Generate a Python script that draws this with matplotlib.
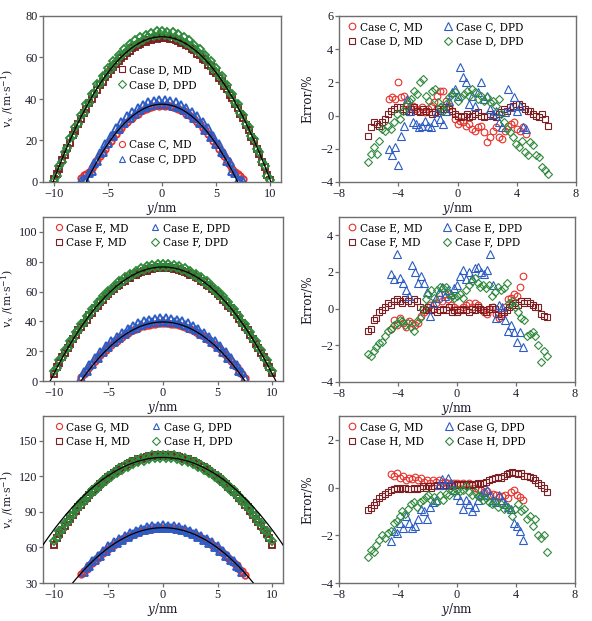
import numpy as np
import matplotlib
matplotlib.use("Agg")
import matplotlib.pyplot as plt

plt.rcParams['font.family'] = ['DejaVu Serif']
plt.rcParams['mathtext.fontset'] = 'dejavuserif'

# ---------------- velocity profiles (left column) ----------------
# wide channel (cases D, F, H) sampled from -10 to 10 nm, narrow (C, E, G) from -7.5 to 7.5 nm
wide_range = (-10.0, 10.0)
narrow_range = (-7.5, 7.5)
narrow_range_G_dpd = (-7.25, 7.25)

vel_D_md = [1.5, 3.8, 6.5, 10.4, 13.0, 16.6, 19.0, 22.5, 24.8, 28.1, 30.2, 33.3, 35.1, 38.0, 39.9, 42.6, 44.3,
            46.8, 48.3, 50.5, 51.9, 54.0, 55.2, 57.1, 58.2, 59.9, 60.8, 62.4, 63.0, 64.4, 65.0, 66.2, 66.5, 67.6,
            67.7, 68.6, 68.6, 69.3, 69.1, 69.7, 69.4, 69.6, 69.2, 69.0, 68.9, 68.2, 68.1, 67.2, 66.9, 65.8, 65.4,
            64.0, 63.5, 61.9, 61.3, 59.4, 58.7, 56.6, 55.7, 53.5, 52.4, 50.0, 48.8, 46.2, 44.8, 42.1, 40.4, 37.5,
            35.7, 32.7, 30.7, 27.5, 25.3, 21.9, 19.6, 16.0, 13.5, 9.8, 7.1, 3.6, 1.2]
vel_D_dpd = [0.6, 2.8, 7.6, 9.4, 14.5, 16.2, 21.1, 22.1, 26.7, 28.0, 32.4, 33.1, 37.4, 38.2, 42.3, 42.9, 47.0,
             47.1, 51.2, 51.0, 54.8, 54.6, 58.2, 57.9, 61.3, 60.7, 64.0, 63.2, 66.3, 65.4, 68.4, 67.1, 69.9, 68.5,
             71.0, 69.8, 72.0, 70.3, 72.6, 70.8, 72.8, 70.9, 72.5, 70.4, 72.1, 69.6, 71.1, 68.6, 69.8, 67.2, 68.3,
             65.2, 66.2, 63.3, 63.9, 60.6, 61.2, 57.8, 58.1, 54.5, 54.7, 50.9, 51.0, 47.0, 46.7, 42.8, 42.2, 38.1,
             37.5, 33.2, 32.2, 27.9, 26.7, 22.2, 20.9, 16.1, 14.5, 9.6, 7.8, 2.9, 0.8]
vel_C_md = [1.8, 3.2, 3.9, 4.9, 6.7, 8.3, 10.6, 12.4, 14.6, 16.1, 18.3, 19.8, 21.9, 23.1, 25.0, 26.2, 27.9, 28.8,
            30.3, 31.0, 32.4, 33.0, 34.1, 34.5, 35.4, 35.6, 36.3, 36.4, 36.9, 36.7, 37.1, 36.8, 36.9, 36.4, 36.3,
            35.6, 35.4, 34.5, 34.1, 33.0, 32.4, 31.1, 30.2, 28.8, 27.9, 26.2, 25.0, 23.2, 21.8, 19.9, 18.2, 16.1,
            14.5, 12.3, 10.4, 8.2, 6.5, 4.6, 3.7, 2.9, 1.6]
vel_C_dpd = [0.4, 1.3, 0.9, 4.3, 5.2, 9.3, 10.1, 14.0, 14.4, 18.4, 18.6, 22.2, 22.1, 25.8, 25.5, 28.9, 28.4, 31.6,
             30.8, 33.9, 32.9, 35.7, 34.6, 37.2, 36.0, 38.4, 36.9, 39.2, 37.5, 39.5, 37.7, 39.6, 37.6, 39.2, 36.8,
             38.4, 36.0, 37.2, 34.5, 35.8, 32.8, 33.9, 30.7, 31.6, 28.2, 29.0, 25.3, 25.9, 21.9, 22.3, 18.3, 18.5,
             14.3, 14.1, 10.0, 9.4, 5.1, 4.4, 0.7, 1.2, 0.3]

vel_F_md = [4.8, 9.3, 12.1, 16.0, 18.6, 22.3, 24.8, 28.3, 30.6, 34.0, 36.0, 39.2, 41.2, 44.2, 45.9, 48.8, 50.3,
            53.0, 54.4, 56.9, 58.1, 60.4, 61.4, 63.6, 64.4, 66.4, 67.1, 68.9, 69.4, 71.0, 71.3, 72.7, 72.9, 74.1,
            74.1, 75.2, 75.0, 75.9, 75.5, 76.2, 75.8, 76.2, 75.6, 75.8, 75.1, 75.1, 74.2, 74.0, 73.0, 72.6, 71.4,
            70.9, 69.5, 68.8, 67.2, 66.3, 64.5, 63.5, 61.5, 60.3, 58.2, 56.8, 54.5, 52.9, 50.4, 48.7, 46.0, 44.1,
            41.3, 39.1, 36.1, 33.9, 30.7, 28.2, 24.9, 22.2, 18.7, 15.9, 12.2, 9.2, 5.3]
vel_F_dpd = [6.4, 8.7, 13.9, 15.5, 20.5, 21.9, 26.7, 27.9, 32.6, 33.8, 38.2, 39.1, 43.4, 44.1, 48.2, 48.8, 52.7,
             53.1, 56.8, 57.0, 60.5, 60.6, 63.9, 63.8, 67.0, 66.6, 69.6, 69.1, 72.0, 71.3, 73.9, 73.1, 75.5, 74.5,
             76.8, 75.6, 77.7, 76.3, 78.2, 76.7, 78.4, 76.6, 78.2, 76.3, 77.7, 75.6, 76.8, 74.5, 75.5, 73.0, 73.9,
             71.2, 72.0, 69.0, 69.6, 66.5, 67.0, 63.7, 63.9, 60.5, 60.5, 56.9, 56.8, 53.0, 52.7, 48.7, 48.2, 44.0,
             43.4, 39.0, 38.2, 33.7, 32.6, 27.9, 26.7, 21.8, 20.5, 15.4, 13.9, 8.6, 6.8]
vel_E_md = [2.6, 4.6, 7.4, 9.1, 11.7, 13.4, 15.8, 17.3, 19.5, 20.9, 22.9, 24.1, 26.0, 27.1, 28.8, 29.7, 31.2, 31.9,
            33.3, 33.9, 35.1, 35.5, 36.6, 36.8, 37.7, 37.8, 38.5, 38.4, 39.0, 38.8, 39.1, 38.8, 38.9, 38.5, 38.2,
            38.1, 37.3, 37.1, 36.2, 35.8, 34.7, 34.2, 33.0, 32.2, 30.8, 30.0, 28.4, 27.4, 25.6, 24.4, 22.6, 21.2,
            19.1, 17.6, 15.4, 13.7, 11.3, 9.5, 7.0, 4.9, 2.3]
vel_E_dpd = [2.0, 5.9, 6.6, 11.0, 11.4, 15.3, 15.6, 19.5, 19.5, 23.2, 23.1, 26.6, 26.3, 29.7, 29.1, 32.5, 31.8,
             34.9, 33.9, 36.9, 35.8, 38.6, 37.4, 40.0, 38.6, 41.0, 39.4, 41.7, 39.9, 42.0, 40.1, 42.1, 39.9, 41.7,
             39.4, 41.0, 38.6, 40.0, 37.4, 38.6, 35.8, 36.9, 33.9, 34.9, 31.7, 32.5, 29.1, 29.7, 26.2, 26.6, 23.0,
             23.2, 19.4, 19.5, 15.5, 15.3, 11.3, 10.9, 6.5, 5.8, 2.2]

vel_H_md = [62.0, 67.9, 71.0, 74.9, 77.9, 81.5, 84.3, 87.8, 90.4, 93.8, 96.2, 99.3, 101.5, 104.5, 106.5, 109.3,
            111.2, 113.7, 115.4, 117.8, 119.3, 121.5, 122.8, 124.8, 126.0, 127.8, 128.7, 130.4, 131.1, 132.6,
            133.2, 134.5, 134.8, 135.9, 136.1, 137.0, 137.1, 137.8, 137.6, 138.1, 137.8, 138.1, 137.6, 137.8,
            137.1, 137.0, 136.1, 135.9, 134.8, 134.5, 133.2, 132.6, 131.1, 130.4, 128.7, 127.8, 126.0, 124.8,
            122.8, 121.5, 119.3, 117.8, 115.4, 113.7, 111.2, 109.3, 106.5, 104.5, 101.5, 99.3, 96.2, 93.8, 90.4,
            87.8, 84.3, 81.5, 77.9, 74.9, 71.0, 67.9, 62.4]
vel_H_dpd = [65.5, 68.2, 74.3, 75.0, 80.9, 81.2, 87.1, 87.4, 93.0, 93.0, 98.5, 98.3, 103.6, 103.2, 108.4, 107.9,
             112.8, 112.1, 116.9, 116.0, 120.6, 119.6, 124.0, 122.8, 127.0, 125.6, 129.7, 128.1, 132.0, 130.2,
             134.0, 132.0, 135.6, 133.4, 136.8, 134.5, 137.7, 135.2, 138.2, 135.6, 138.4, 135.6, 138.2, 135.2,
             137.7, 134.5, 136.8, 133.4, 135.6, 132.0, 134.0, 130.2, 132.0, 128.1, 129.7, 125.6, 127.0, 122.8,
             124.0, 119.6, 120.6, 116.0, 116.9, 112.1, 112.8, 107.9, 108.4, 103.2, 103.6, 98.3, 98.5, 93.0, 93.0,
             87.4, 87.1, 81.2, 80.9, 75.0, 74.3, 68.2, 65.8]
vel_G_md = [37.4, 40.0, 42.0, 44.9, 46.7, 49.5, 51.1, 53.7, 55.1, 57.5, 58.8, 61.0, 62.1, 64.2, 65.1, 67.0, 67.7,
            69.4, 70.0, 71.5, 71.9, 73.3, 73.5, 74.7, 74.7, 75.7, 75.6, 76.4, 76.1, 76.7, 76.3, 76.7, 76.1, 76.4,
            75.6, 75.7, 74.7, 74.7, 73.5, 73.3, 71.9, 71.5, 70.0, 69.4, 67.7, 67.0, 65.1, 64.2, 62.1, 61.0, 58.8,
            57.5, 55.1, 53.7, 51.1, 49.5, 46.7, 44.9, 42.0, 40.0, 36.6]
vel_G_dpd = [39.4, 43.9, 44.3, 48.8, 49.0, 53.1, 53.1, 57.2, 57.0, 61.0, 60.6, 64.3, 63.8, 67.3, 66.6, 70.0, 69.1,
             72.3, 71.2, 74.3, 73.0, 75.9, 74.4, 77.1, 75.5, 78.0, 76.2, 78.5, 76.6, 78.7, 76.6, 78.5, 76.2, 78.0,
             75.5, 77.1, 74.4, 75.9, 73.0, 74.3, 71.2, 72.3, 69.1, 70.0, 66.6, 67.3, 63.8, 64.3, 60.6, 61.0, 57.0,
             57.2, 53.1, 53.1, 49.0, 48.8, 44.3, 43.9, 39.4]

# parabolic fits (black lines): u = peak - curv * y^2
fit_cases = ['C', 'D', 'E', 'F', 'G', 'H']
fit_peak = [37.5, 70.0, 39.6, 76.5, 76.7, 136.0]
fit_curv = [0.765, 0.690, 0.700, 0.715, 0.680, 0.610]

# ---------------- relative errors (right column) ----------------
err_narrow_range = (-4.6, 4.6)
err_narrow_range_EG = (-4.45, 4.5)
err_wide_range = (-6.05, 6.1)

err_C_md = [1.0, 1.1, 1.0, 2.0, 1.1, 1.2, 0.7, 0.5, 0.6, 0.4, 0.3, 0.5, 0.2, 0.4, 0.6, 0.8, 1.2, 1.5, 1.5, 0.9,
            0.6, 0.3, -0.2, -0.5, -0.3, -0.4, -0.6, -0.5, -0.8, -0.9, -0.7, -0.6, -1.0, -1.6, -1.3, -0.9, -0.7,
            -1.3, -1.4, -0.9, -0.6, -0.5, -0.4, -0.8, -0.9, -0.7, -1.1]
err_C_dpd = [-2.0, -2.4, -1.9, -3.0, -1.2, -0.6, 1.0, 0.3, -0.4, -0.5, -0.7, -0.6, -0.3, -0.6, -0.7, -0.4, 0.2,
             -0.2, -0.5, 0.3, 0.9, 1.4, 1.6, 1.2, 2.9, 2.3, 2.0, 0.7, 1.2, 0.6, 1.4, 2.0, 1.0, 1.2, 0.4, 0.1, 0.3,
             -0.4, -0.7, 0.2, 1.6, 0.5, 1.1, 0.3, 0.6, -0.7, -0.8]
err_D_md = [-1.2, -0.7, -0.4, -0.5, -0.6, -0.4, -0.2, 0.1, 0.3, 0.4, 0.5, 0.5, 0.4, 0.3, 0.2, 0.4, 0.5, 0.3, 0.2,
            0.4, 0.3, 0.2, 0.1, 0.2, 0.4, 0.3, 0.4, 0.5, 0.4, 0.3, 0.1, 0.0, -0.1, 0.0, 0.1, -0.1, 0.0, 0.1, 0.2,
            0.0, -0.1, 0.0, 0.1, 0.0, -0.1, 0.1, 0.2, 0.4, 0.3, 0.5, 0.6, 0.7, 0.7, 0.6, 0.4, 0.3, 0.3, 0.1, 0.0,
            -0.1, 0.1, -0.2, -0.6]
err_D_dpd = [-2.8, -2.3, -1.9, -2.3, -1.5, -0.8, -0.9, -0.6, -0.8, -0.4, 0.1, -0.2, 0.3, 0.6, 0.9, 1.0, 1.5, 1.3,
             2.0, 2.2, 1.2, 0.9, 1.5, 1.6, 0.8, 0.5, 0.3, 0.7, 1.1, 1.3, 1.4, 0.9, 1.1, 1.3, 1.5, 1.2, 1.6, 1.4,
             1.0, 1.2, 0.9, 1.1, 0.8, 0.9, 0.6, 1.0, 0.1, -0.4, -0.8, -1.0, -1.3, -1.7, -1.9, -1.5, -2.2, -2.4,
             -1.6, -1.8, -2.4, -2.5, -3.1, -3.3, -3.5]

err_E_md = [-1.1, -0.6, -0.9, -0.5, -0.8, -1.0, -0.7, -0.8, -0.9, -0.8, -0.4, -0.2, 0.1, 0.2, 0.0, 0.3, 0.5, 0.4,
            0.8, 0.5, 0.2, 0.1, 0.0, -0.1, 0.1, 0.2, 0.3, 0.1, 0.3, 0.2, 0.0, -0.2, -0.3, 0.0, 0.1, -0.3, -0.5,
            -0.3, 0.1, 0.5, 0.6, 0.8, 0.7, 1.2, 1.8]
err_E_dpd = [1.9, 1.6, 3.0, 1.7, 1.4, 1.0, 0.7, 2.4, 2.0, 1.4, 1.8, 1.4, 0.9, -0.4, 0.3, 0.6, 0.9, 1.2, 0.7, 1.0,
             0.8, 1.1, 1.3, 1.8, 2.1, 1.6, 2.0, 1.7, 2.2, 2.3, 2.0, 1.9, 2.1, 3.0, 1.3, -0.5, 0.2, 0.1, -0.6, -1.2,
             -0.9, -1.3, -1.8, -1.3, -2.1]
err_F_md = [-1.2, -1.1, -0.6, -0.5, -0.2, -0.1, 0.1, 0.3, 0.2, 0.4, 0.5, 0.4, 0.3, 0.5, 0.4, 0.3, 0.5, 0.4, 0.1,
            0.0, -0.1, 0.1, -0.1, 0.0, -0.2, -0.1, 0.0, -0.1, 0.1, -0.2, -0.1, -0.2, -0.1, 0.0, -0.1, -0.2, 0.0,
            -0.1, 0.1, 0.0, -0.1, -0.2, 0.0, 0.1, 0.0, -0.3, -0.4, -0.2, -0.1, 0.1, 0.2, 0.3, 0.2, 0.4, 0.3, 0.4,
            0.3, 0.2, 0.1, 0.1, -0.3, -0.4, -0.45]
err_F_dpd = [-2.45, -2.6, -2.3, -2.1, -1.9, -1.8, -1.5, -1.2, -1.1, -0.9, -0.8, -0.6, -0.7, -0.9, -0.8, -1.0, -1.2,
             -0.7, -0.5, 0.0, 0.5, 0.8, 1.0, 0.6, 1.0, 1.2, 1.1, 1.2, 0.8, 0.7, 0.6, 0.7, 0.8, 0.6, 1.0, 1.3, 1.5,
             1.7, 1.4, 1.2, 1.3, 1.1, 1.3, 0.7, 0.9, 1.2, 1.0, 1.1, 1.4, 0.3, 0.4, 0.1, -0.2, -0.5, -0.6, -1.5,
             -1.4, -1.3, -1.5, -2.0, -2.9, -2.3, -2.6]

err_G_md = [0.55, 0.5, 0.6, 0.4, 0.5, 0.3, 0.4, 0.35, 0.45, 0.3, 0.4, 0.25, 0.3, 0.2, 0.3, 0.25, 0.3, 0.2, 0.25,
            0.2, 0.15, 0.2, 0.2, 0.15, 0.2, 0.1, 0.2, 0.1, 0.0, -0.05, -0.1, -0.2, -0.15, -0.3, -0.25, -0.3, -0.4,
            -0.35, -0.3, -0.45, -0.2, -0.1, -0.3, -0.4, -0.5]
err_G_dpd = [-2.25, -1.8, -1.9, -1.5, -1.7, -1.2, -1.5, -1.7, -1.6, -1.3, -0.9, -1.0, -1.3, -0.8, -0.6, -0.5, 0.1,
             0.35, 0.1, 0.4, 0.2, -0.1, -0.3, -0.5, -0.9, -0.5, -0.7, -1.0, -0.8, -0.5, -0.3, -0.2, -0.1, -0.3,
             -0.5, -0.6, -0.3, -0.5, -0.7, -0.8, -0.9, -1.5, -1.6, -1.8, -2.2]
err_H_md = [-0.95, -0.85, -0.75, -0.6, -0.45, -0.35, -0.25, -0.2, -0.1, -0.05, 0.0, -0.05, 0.0, 0.0, -0.05, -0.05,
            0.0, -0.05, 0.0, 0.05, 0.0, 0.05, 0.0, 0.05, 0.1, 0.05, 0.1, 0.1, 0.05, 0.1, 0.1, 0.15, 0.1, 0.15, 0.1,
            0.15, 0.1, 0.15, 0.2, 0.15, 0.2, 0.25, 0.3, 0.35, 0.4, 0.45, 0.4, 0.5, 0.55, 0.6, 0.65, 0.6, 0.55, 0.6,
            0.5, 0.5, 0.45, 0.4, 0.3, 0.2, 0.1, 0.0, -0.2]
err_H_dpd = [-2.9, -2.6, -2.7, -2.4, -2.2, -2.0, -2.1, -1.9, -1.8, -1.5, -1.4, -1.2, -1.0, -1.1, -0.9, -0.7, -0.6,
             -0.8, -0.6, -0.5, -0.4, -0.3, -0.5, -0.4, -0.6, -0.3, -0.5, -0.25, -0.3, -0.1, -0.2, -0.1, -0.15, -0.1,
             0.05, -0.2, -0.3, -0.2, -0.35, -0.4, -0.5, -0.45, -0.6, -0.7, -0.6, -0.8, -0.7, -0.9, -0.8, -0.9,
             -1.2, -0.9, -0.7, -1.0, -0.9, -1.3, -1.2, -1.6, -1.3, -2.0, -2.1, -2.0, -2.7]

# ---------------- styles ----------------
RED = '#e8312b'
DARKRED = '#7d1f22'
BLUE = '#2c5cc5'
GREEN = '#2f8a3c'
SPINE = '#6e6e6e'
TXT = '#1c1c2c'
sty = {
    'md_c': dict(marker='o', color=RED, ms=4.2),
    'md_s': dict(marker='s', color=DARKRED, ms=3.8),
    'dpd_t': dict(marker='^', color=BLUE, ms=4.6),
    'dpd_d': dict(marker='D', color=GREEN, ms=3.6),
}
left_ms = {'md_c': 4.6, 'md_s': 4.2, 'dpd_t': 5.2, 'dpd_d': 4.2}
left_mew = 1.35

W, H = 592, 621
fig = plt.figure(figsize=(W / 100, H / 100), dpi=100)


def make_ax(l, t, r, b):
    ax = fig.add_axes([l / W, 1 - b / H, (r - l) / W, (b - t) / H])
    for s in ax.spines.values():
        s.set_color(SPINE)
        s.set_linewidth(1.0)
    ax.tick_params(direction='out', length=2.8, width=0.9, color=SPINE, labelsize=8.8,
                   labelcolor=TXT, pad=1.3, top=False, right=False,
                   labelfontfamily='Liberation Serif')
    return ax


def pts(ax, x, y, key, label, ms=None, mew=0.75):
    st = sty[key]
    h, = ax.plot(x, y, linestyle='none', marker=st['marker'], ms=ms if ms else st['ms'],
                 mfc='none', mec=st['color'], mew=mew, label=label)
    return h


def legend_handle(ax, key, label, ms, mew=0.8):
    st = sty[key]
    h, = ax.plot([], [], linestyle='none', marker=st['marker'], ms=ms, mfc='none',
                 mec=st['color'], mew=mew, label=label)
    return h


def grid(rng, vals):
    return np.linspace(rng[0], rng[1], len(vals))


def fit_line(ax, case):
    i = fit_cases.index(case)
    yy = np.linspace(-11.5, 11.5, 300)
    ax.plot(yy, fit_peak[i] - fit_curv[i] * yy ** 2, color='black', lw=0.9, zorder=5)


LEG = dict(frameon=False, fontsize=7.6, handlelength=0.9, handletextpad=0.3, labelspacing=0.45,
           borderpad=0.0, borderaxespad=0.0)


def left_panel(ax, cn, cw, vn_md, vn_dpd, vw_md, vw_dpd, ylim, yticks, narrow_dpd_rng=narrow_range):
    pts(ax, grid(wide_range, vw_md), vw_md, 'md_s', None, ms=left_ms['md_s'], mew=left_mew)
    pts(ax, grid(wide_range, vw_dpd), vw_dpd, 'dpd_d', None, ms=left_ms['dpd_d'], mew=left_mew)
    pts(ax, grid(narrow_range, vn_md), vn_md, 'md_c', None, ms=left_ms['md_c'], mew=left_mew)
    pts(ax, grid(narrow_dpd_rng, vn_dpd), vn_dpd, 'dpd_t', None, ms=left_ms['dpd_t'], mew=left_mew)
    fit_line(ax, cw)
    fit_line(ax, cn)
    h1 = legend_handle(ax, 'md_s', f'Case {cw}, MD', 3.8)
    h2 = legend_handle(ax, 'dpd_d', f'Case {cw}, DPD', 3.6)
    h3 = legend_handle(ax, 'md_c', f'Case {cn}, MD', 4.4)
    h4 = legend_handle(ax, 'dpd_t', f'Case {cn}, DPD', 4.8)
    ax.set_xlim(-11, 11)
    ax.set_ylim(*ylim)
    ax.set_xticks([-10, -5, 0, 5, 10])
    ax.set_yticks(yticks)
    ax.set_xlabel(r'$y$/nm', fontsize=8.6, color=TXT, labelpad=0)
    ax.set_ylabel(r'$v_x$ /(m$\cdot$s$^{-1}$)', fontsize=7.8, color=TXT)
    ax.yaxis.set_label_coords(-0.113, 0.5)
    return h1, h2, h3, h4


def right_panel(ax, cn, cw, en_md, en_dpd, ew_md, ew_dpd, ylim, yticks, nrng):
    h3 = pts(ax, grid(nrng, en_md), en_md, 'md_c', f'Case {cn}, MD', ms=4.8, mew=0.8)
    h1 = pts(ax, grid(err_wide_range, ew_md), ew_md, 'md_s', f'Case {cw}, MD', ms=4.4, mew=0.8)
    h4 = pts(ax, grid(nrng, en_dpd), en_dpd, 'dpd_t', f'Case {cn}, DPD', ms=5.2, mew=0.8)
    h2 = pts(ax, grid(err_wide_range, ew_dpd), ew_dpd, 'dpd_d', f'Case {cw}, DPD', ms=4.2, mew=0.8)
    ax.set_xlim(-8, 8)
    ax.set_ylim(*ylim)
    ax.set_xticks([-8, -4, 0, 4, 8])
    ax.set_yticks(yticks)
    ax.set_xlabel(r'$y$/nm', fontsize=8.6, color=TXT, labelpad=0)
    ax.set_ylabel('Error/%', fontsize=8.6, color=TXT)
    ax.yaxis.set_label_coords(-0.105, 0.5)
    ax.legend(handles=[h3, h1, h4, h2], ncol=2, loc='upper left', bbox_to_anchor=(0.035, 0.965),
              columnspacing=1.9, **LEG)


# row 1
ax = make_ax(43, 16, 281, 182)
h1, h2, h3, h4 = left_panel(ax, 'C', 'D', vel_C_md, vel_C_dpd, vel_D_md, vel_D_dpd, (0, 80), [0, 20, 40, 60, 80])
lg1 = ax.legend(handles=[h1, h2], loc='upper left', bbox_to_anchor=(0.31, 0.705), **LEG)
ax.add_artist(lg1)
ax.legend(handles=[h3, h4], loc='upper left', bbox_to_anchor=(0.31, 0.255), **LEG)

ax = make_ax(339, 16, 576, 182)
right_panel(ax, 'C', 'D', err_C_md, err_C_dpd, err_D_md, err_D_dpd, (-4, 6), [-4, -2, 0, 2, 4, 6], err_narrow_range)

# row 2
ax = make_ax(43, 217, 283, 381)
h1, h2, h3, h4 = left_panel(ax, 'E', 'F', vel_E_md, vel_E_dpd, vel_F_md, vel_F_dpd, (0, 110), [0, 20, 40, 60, 80, 100])
ax.legend(handles=[h3, h1, h4, h2], ncol=2, loc='upper left', bbox_to_anchor=(0.045, 0.965), columnspacing=2.0, **LEG)

ax = make_ax(339, 217, 575, 382)
right_panel(ax, 'E', 'F', err_E_md, err_E_dpd, err_F_md, err_F_dpd, (-4, 5), [-4, -2, 0, 2, 4], err_narrow_range_EG)

# row 3
ax = make_ax(43, 416, 283, 583)
h1, h2, h3, h4 = left_panel(ax, 'G', 'H', vel_G_md, vel_G_dpd, vel_H_md, vel_H_dpd, (30, 171), [30, 60, 90, 120, 150],
                            narrow_dpd_rng=narrow_range_G_dpd)
ax.legend(handles=[h3, h1, h4, h2], ncol=2, loc='upper left', bbox_to_anchor=(0.045, 0.965), columnspacing=2.0, **LEG)

ax = make_ax(339, 416, 575, 583)
right_panel(ax, 'G', 'H', err_G_md, err_G_dpd, err_H_md, err_H_dpd, (-4, 3), [-4, -2, 0, 2], err_narrow_range_EG)

fig.savefig('out.png', dpi=100)
